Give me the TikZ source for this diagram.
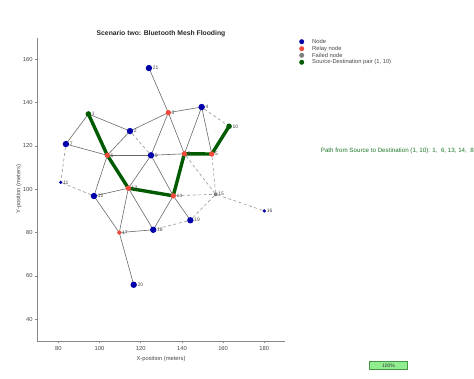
\documentclass[tikz,border=0pt]{standalone}
\usepackage{fontspec}
\setmainfont{Liberation Sans}
\usetikzlibrary{backgrounds}
\definecolor{nblue}{RGB}{0,0,170}
\definecolor{nred}{RGB}{240,75,60}
\definecolor{ngray}{RGB}{128,128,128}
\definecolor{ngreen}{RGB}{0,90,0}
\definecolor{edgegray}{RGB}{105,105,105}
\definecolor{dashgray}{RGB}{150,150,150}
\definecolor{axgray}{RGB}{135,135,135}
\definecolor{txtgray}{RGB}{70,70,70}
\definecolor{pathgreen}{RGB}{30,120,40}
\definecolor{barfill}{RGB}{144,238,144}
\definecolor{barline}{RGB}{70,150,70}
\begin{document}
\begin{tikzpicture}[x=1pt,y=1pt,
 dot/.style={circle,inner sep=0pt,draw=none},
 bnode/.style={dot,fill=nblue,minimum size=6.4pt},
 bsmall/.style={dot,fill=nblue,minimum size=3.6pt},
 rnode/.style={dot,fill=nred,minimum size=5.4pt},
 rsmall/.style={dot,fill=nred,minimum size=4.2pt},
 gnode/.style={dot,fill=ngreen,minimum size=5.6pt},
 fnode/.style={dot,fill=ngray,minimum size=4pt},
 lbl/.style={font=\fontsize{5}{6}\selectfont, text=txtgray, inner sep=0.3pt},
 link/.style={draw=edgegray, line width=0.6pt},
 dlink/.style={draw=dashgray, line width=0.6pt, dash pattern=on 3pt off 2.5pt},
 plink/.style={draw=ngreen, line width=3.4pt},
 txt/.style={font=\fontsize{5.8}{7}\selectfont, text=txtgray, inner sep=0pt},
 legdot/.style={dot,minimum size=5pt},
 every label/.style={lbl},
 label distance=0pt
]
\useasboundingbox (0,0) rectangle (474,379);

\begin{scope}[x=2.06pt, y=2.165pt, shift={(-106.5pt,-26.8pt)}]
 % axes
 \draw[axgray, line width=0.6pt] (70,170) -- (70,30) -- (190,30);
 \foreach \v in {80,100,...,180}{
   \draw[axgray, line width=0.5pt] (\v,30) -- ++(0,-2.5pt);
   \node[txt, anchor=north] (xt\v) at ([yshift=-5pt]\v,30) {\v};
 }
 \foreach \v in {40,60,...,160}{
   \draw[axgray, line width=0.5pt] (70,\v) -- ++(-3pt,0);
   \node[txt, anchor=east] (yt\v) at ([xshift=-5pt]70,\v) {\v};
 }
 % nodes
 \node[gnode, label=0:1]  (n1)  at (94.6,134.8) {};
 \node[bnode, label=0:2]  (n2)  at (114.8,126.9) {};
 \node[rnode, label=0:3]  (n3)  at (133.4,135.4) {};
 \node[bnode, label=0:4]  (n4)  at (149.6,138.0) {};
 \node[rnode, label=0:5]  (n5)  at (154.5,116.3) {};
 \node[rnode, label=0:6]  (n6)  at (103.8,115.7) {};
 \node[bnode, label=0:7]  (n7)  at (83.7,120.9) {};
 \node[rnode, label=0:8]  (n8)  at (141.2,116.4) {};
 \node[bnode, label=0:9]  (n9)  at (125.0,115.7) {};
 \node[gnode, label=0:10] (n10) at (162.9,129.1) {};
 \node[bsmall, label=0:11] (n11) at (81.2,103.2) {};
 \node[bnode, label=0:12] (n12) at (97.3,96.9) {};
 \node[rnode, label=0:13] (n13) at (114.0,100.5) {};
 \node[rnode, label=0:14] (n14) at (135.8,97.0) {};
 \node[fnode, label=0:15] (n15) at (156.4,97.7) {};
 \node[bsmall, label=0:16] (n16) at (180.0,90.0) {};
 \node[rsmall, label=0:17] (n17) at (109.6,80.0) {};
 \node[bnode, label=0:18] (n18) at (126.1,81.3) {};
 \node[bnode, label=0:19] (n19) at (144.1,85.7) {};
 \node[bnode, label=0:20] (n20) at (116.6,55.9) {};
 \node[bnode, label=0:21] (n21) at (124.0,156.0) {};

 \begin{pgfonlayer}{background}
  \foreach \a/\b in {21/3,3/4,3/2,3/9,3/8,4/8,4/5,1/2,1/7,7/6,2/6,6/9,9/8,6/12,12/13,12/17,9/13,9/14,13/17,13/18,14/18,14/19,17/18,17/20}
    \draw[link] (n\a.center) -- (n\b.center);
  \foreach \a/\b in {4/10,7/11,11/12,2/9,8/15,5/15,14/15,15/16,15/19,19/18}
    \draw[dlink] (n\a) -- (n\b);
  \foreach \a/\b in {1/6,6/13,13/14,14/8,8/5,5/10}
    \draw[plink] (n\a.center) -- (n\b.center);
 \end{pgfonlayer}
\end{scope}

% title and axis labels
\node[font=\fontsize{6.8}{8}\selectfont\bfseries, text=black!85, inner sep=0pt] (title) at (161,345.7) {Scenario two: Bluetooth Mesh Flooding};
\node[txt] (xlab) at (161,20) {X-position (meters)};
\node[txt, rotate=90] (ylab) at (19,190) {Y-position (meters)};

% legend
\node[legdot, fill=nblue]  (l1) at (301.7,337.3) {};
\node[legdot, fill=nred]   (l2) at (301.7,330.3) {};
\node[legdot, fill=ngray]  (l3) at (301.7,323.7) {};
\node[legdot, fill=ngreen] (l4) at (301.7,316.7) {};
\node[txt, anchor=west] (t1) at (312,337.3) {Node};
\node[txt, anchor=west] (t2) at (312,330.3) {Relay node};
\node[txt, anchor=west] (t3) at (312,323.7) {Failed node};
\node[txt, anchor=west] (t4) at (312,316.7) {Source-Destination pair (1, 10)};

% path text
\node[txt, font=\fontsize{6.2}{7.5}\selectfont, text=pathgreen, anchor=west] (path) at (320.7,227.7) {Path from Source to Destination (1, 10): 1,\ \ 6, 13, 14,\ \ 8};

% progress bar
\node[draw=barline, fill=barfill, line width=0.5pt, minimum width=38.4pt, minimum height=7.3pt, inner sep=0pt, font=\fontsize{5}{6}\selectfont, text=black!80] (bar) at (388.5,13.65) {100\%};
\end{tikzpicture}
\end{document}
